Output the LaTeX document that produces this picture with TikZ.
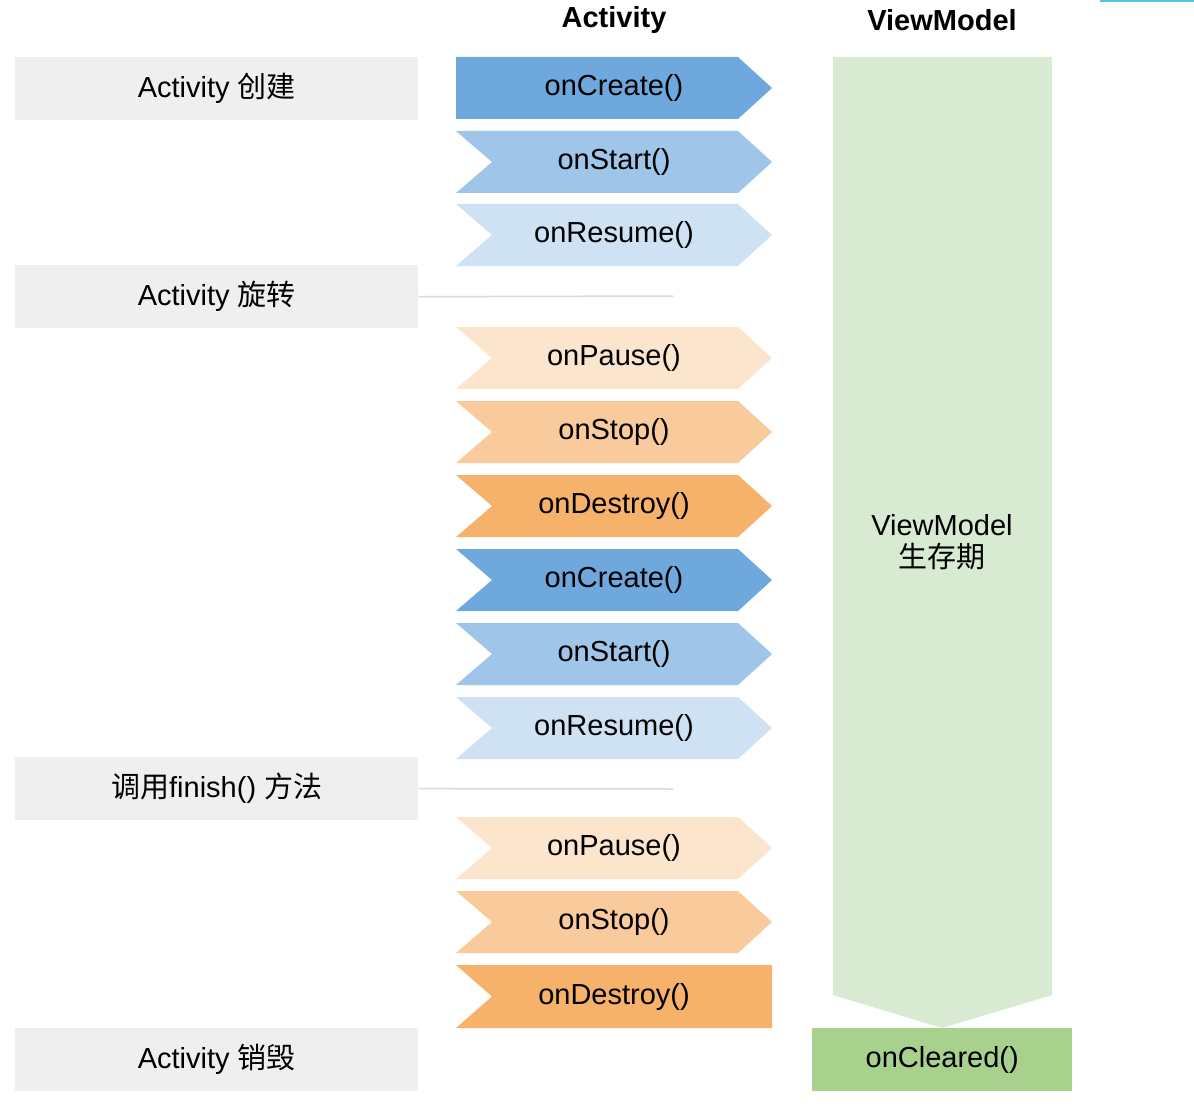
\documentclass[tikz,border=0pt]{standalone}
\usepackage{fontspec}
\setmainfont{Liberation Sans}
\newfontfamily\cjk{Noto Sans CJK SC}
\definecolor{cA}{HTML}{6FA8DC}
\definecolor{cB}{HTML}{9FC5E8}
\definecolor{cC}{HTML}{CFE2F3}
\definecolor{oA}{HTML}{FCE5CD}
\definecolor{oB}{HTML}{F9CB9C}
\definecolor{oC}{HTML}{F6B26B}
\definecolor{gbox}{HTML}{EFEFEF}
\definecolor{gr}{HTML}{D9EAD3}
\definecolor{grd}{HTML}{A9D18E}
\newcommand{\chev}[4]{% top y, color, notch(0/1), tip(0/1)
  \fill[#2] (456,#1) -- (738,#1) -- ({738+34*#4},#1+31) -- (738,#1+62) -- (456,#1+62) -- ({456+36*#3},#1+31) -- cycle;}
\tikzset{lbl/.style={font=\fontsize{29}{32}\selectfont},
  hdr/.style={font=\fontsize{29}{32}\selectfont\bfseries},
  gray/.style={fill=gbox,minimum width=403pt,minimum height=63pt,inner sep=0pt,font=\fontsize{29}{32}\selectfont},
  sep/.style={draw=gbox!80!gray,line width=1.5pt}}
\begin{document}
\begin{tikzpicture}[x=1pt,y=-1pt]
\useasboundingbox (0,0) rectangle (1194,1118);
\fill[white] (0,0) rectangle (1194,1118);
\fill[cA!70!cyan] (1100,0) rectangle (1194,2);
\node[hdr] (hA) at (614,20) {Activity};
\node[hdr] (hV) at (942,20) {ViewModel};
\node[gray,anchor=north west] (g1) at (15,57) {Activity {\cjk 创建}};
\node[gray,anchor=north west] (g2) at (15,265) {Activity {\cjk 旋转}};
\node[gray,anchor=north west] (g3) at (15,757) {{\cjk 调用}finish() {\cjk 方法}};
\node[gray,anchor=north west] (g4) at (15,1028) {Activity {\cjk 销毁}};
\coordinate (e1) at (673,296);
\coordinate (e2) at (673,789);
\draw[sep] (g2.east) -- (e1);
\draw[sep] (g3.east) -- (e2);
% ViewModel column
\fill[gr] (833,57) -- (1052,57) -- (1052,995) -- (942,1028) -- (833,995) -- cycle;
\node[lbl,align=center] (vm) at (942,542) {ViewModel\\{\cjk 生存期}};
\node[fill=grd,minimum width=260pt,minimum height=63pt,inner sep=0pt,anchor=north west,lbl] (oc) at (812,1028) {onCleared()};
% chevrons
\chev{57}{cA}{0}{1}
\chev{131}{cB}{1}{1}
\chev{204}{cC}{1}{1}
\chev{327}{oA}{1}{1}
\chev{401}{oB}{1}{1}
\chev{475}{oC}{1}{1}
\chev{549}{cA}{1}{1}
\chev{623}{cB}{1}{1}
\chev{697}{cC}{1}{1}
\chev{817}{oA}{1}{1}
\chev{891}{oB}{1}{1}
\fill[oC] (456,965) -- (772,965) -- (772,1028) -- (456,1028) -- (492,996.5) -- cycle;
\node[lbl] (t1) at (614,88) {onCreate()};
\node[lbl] (t2) at (614,162) {onStart()};
\node[lbl] (t3) at (614,235) {onResume()};
\node[lbl] (t4) at (614,358) {onPause()};
\node[lbl] (t5) at (614,432) {onStop()};
\node[lbl] (t6) at (614,506) {onDestroy()};
\node[lbl] (t7) at (614,580) {onCreate()};
\node[lbl] (t8) at (614,654) {onStart()};
\node[lbl] (t9) at (614,728) {onResume()};
\node[lbl] (t10) at (614,848) {onPause()};
\node[lbl] (t11) at (614,922) {onStop()};
\node[lbl] (t12) at (614,997) {onDestroy()};
\end{tikzpicture}
\end{document}
